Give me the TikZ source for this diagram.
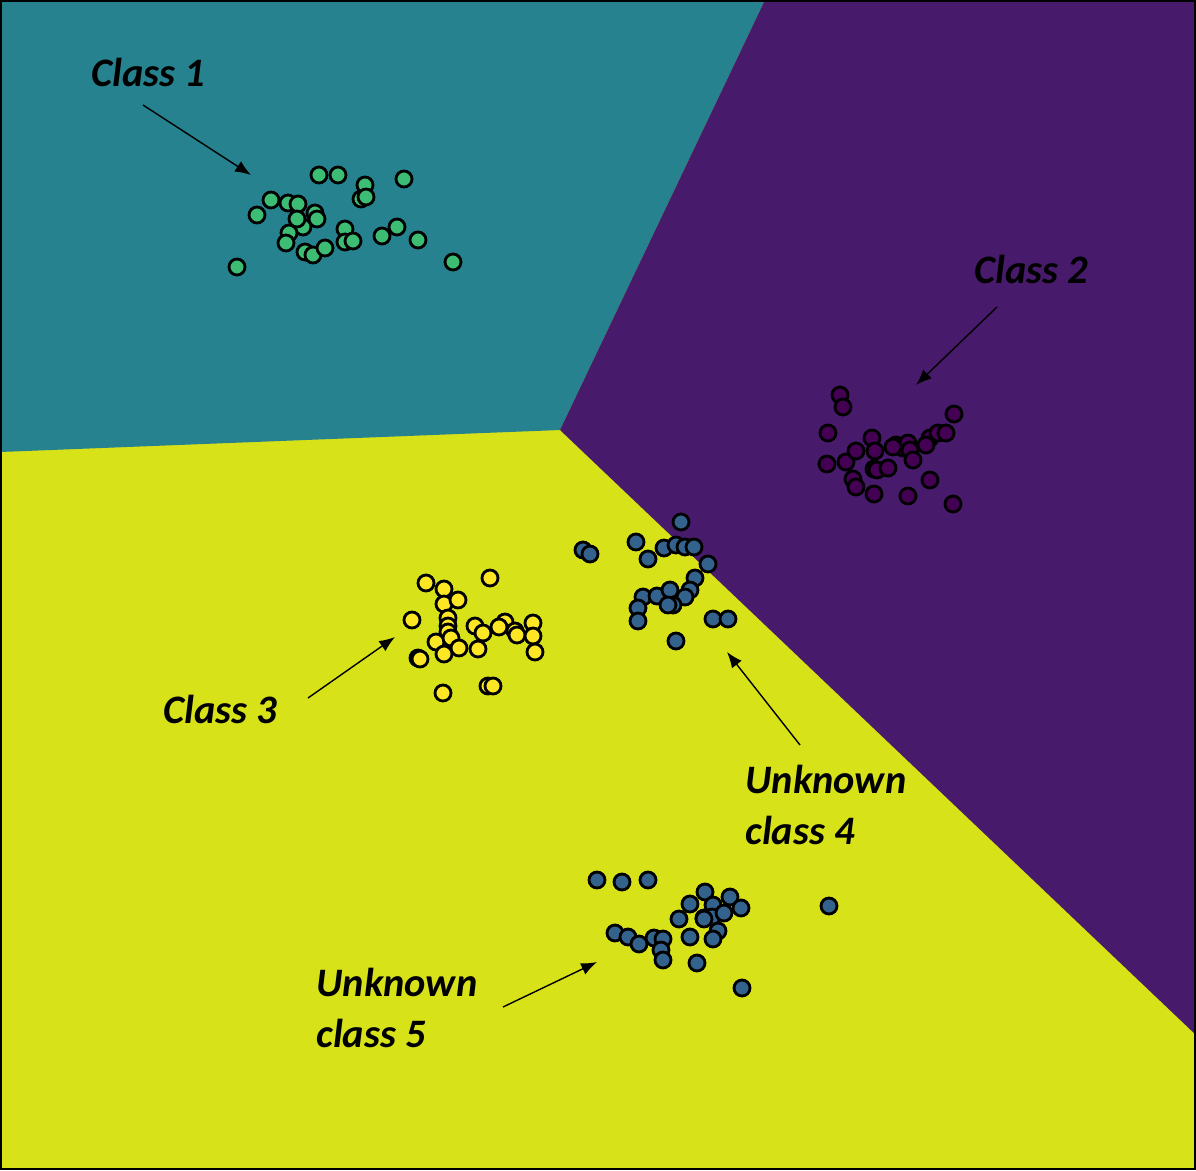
\documentclass[tikz,border=0pt]{standalone}
\usepackage{fontspec}
\setmainfont{Carlito}
\usetikzlibrary{arrows.meta}
\definecolor{teal1}{HTML}{26828E}
\definecolor{purp}{HTML}{481A6C}
\definecolor{yell}{HTML}{D8E219}
\definecolor{cgreen}{HTML}{3DBC74}
\definecolor{cpurp}{HTML}{440154}
\definecolor{cyell}{HTML}{FDE725}
\definecolor{cblue}{HTML}{33638D}
\begin{document}
\begin{tikzpicture}[x=0.02cm,y=-0.02cm,
  pt/.style={circle,draw=black,line width=1.6pt,minimum size=0.32cm,inner sep=0pt},
  lab/.style={font=\fontsize{23}{29.5}\selectfont\bfseries\itshape,inner sep=0pt},
  arr/.style={-{Latex[length=9pt,width=7pt]},line width=0.8pt}]
\useasboundingbox (0,0) rectangle (1196,1170);
\fill[yell] (0,0) rectangle (1196,1170);
\fill[teal1] (0,0) -- (765,0) -- (560,430) -- (0,452) -- cycle;
\fill[purp] (765,0) -- (1196,0) -- (1196,1035) -- (560,430) -- cycle;
\draw[line width=1pt] (1,1) rectangle (1195,1169);
\foreach \x/\y in {319/175,338/175,365/185,404/179,271/200,288/203,298/204,257/215,315/213,317/219,361/199,366/197,303/227,289/233,297/219,345/229,345/242,353/241,382/236,397/227,418/240,286/243,305/252,313/255,325/248,237/267,453/262}
  \node[pt,fill=cgreen] at (\x,\y) {};
\foreach \x/\y in {840/395,843/407,828/433,827/464,846/462,856/451,872/438,875/451,874/469,877/470,888/468,853/479,856/487,874/494,908/496,896/445,903/448,908/443,910/450,913/460,930/438,926/445,938/433,946/433,954/414,930/480,953/504,893/447}
  \node[pt,fill=cpurp] at (\x,\y) {};
\foreach \x/\y in {681/522,583/550,590/554,636/542,648/559,664/548,676/545,685/547,694/547,708/564,695/578,690/590,643/597,657/596,670/590,685/597,673/605,668/605,638/608,638/621,676/641,713/619,728/619}
  \node[pt,fill=cblue] at (\x,\y) {};
\foreach \x/\y in {426/583,490/578,444/589,444/604,458/600,412/620,448/618,448/626,448/632,475/626,483/633,505/622,499/627,515/631,517/635,533/623,533/636,535/652,436/642,451/638,459/648,478/649,444/654,418/658,420/659,443/693,488/686,493/686}
  \node[pt,fill=cyell] at (\x,\y) {};
\foreach \x/\y in {597/880,622/882,648/880,705/892,730/897,690/904,713/905,741/908,679/919,704/918,712/917,724/913,718/931,713/939,690/937,615/933,628/937,639/944,654/938,663/939,661/950,663/960,697/963,742/988,829/906,704/919}
  \node[pt,fill=cblue] at (\x,\y) {};
\node[lab] (l1) at (148,72) {Class 1};
\node[lab] (l2) at (1031,269) {Class 2};
\node[lab] (l3) at (220,709) {Class 3};
\node[lab,align=left,anchor=west] (l4) at (745,805) {Unknown\\class 4};
\node[lab,align=left,anchor=west] (l5) at (316,1008) {Unknown\\class 5};
\coordinate (a1s) at (143,105); \coordinate (a1e) at (251,175);
\coordinate (a2s) at (997,307); \coordinate (a2e) at (916,385);
\coordinate (a3s) at (308,698); \coordinate (a3e) at (395,637);
\coordinate (a4s) at (800,745); \coordinate (a4e) at (727,652);
\coordinate (a5s) at (503,1007); \coordinate (a5e) at (597,962);
\draw[arr] (a1s) -- (a1e);
\draw[arr] (a2s) -- (a2e);
\draw[arr] (a3s) -- (a3e);
\draw[arr] (a4s) -- (a4e);
\draw[arr] (a5s) -- (a5e);
\end{tikzpicture}
\end{document}
